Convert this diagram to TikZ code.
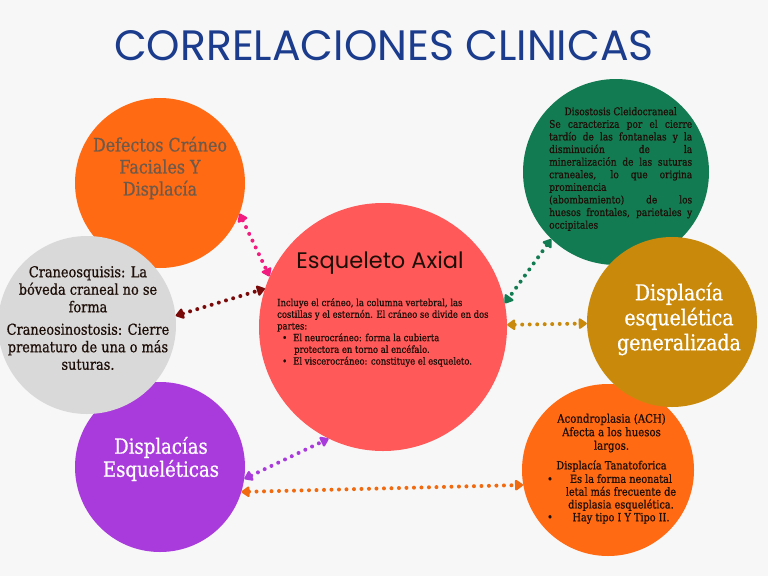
\documentclass[tikz,border=0pt]{standalone}
\usepackage{fontspec}
\setmainfont{DejaVu Serif}[FakeStretch=0.86,FakeBold=0.7]
\newfontfamily\titlefont{Poppins}
\usetikzlibrary{arrows.meta}
\definecolor{cBg}{HTML}{F7F7F7}
\definecolor{cTitle}{HTML}{1B3C8C}
\definecolor{cOTL}{HTML}{FF6A13}
\definecolor{cOTLtxt}{HTML}{6E5A4B}
\definecolor{cGray}{HTML}{D9D9D9}
\definecolor{cPurple}{HTML}{A93BDC}
\definecolor{cRed}{HTML}{FF5959}
\definecolor{cGreen}{HTML}{137B52}
\definecolor{cGold}{HTML}{C98A0B}
\definecolor{cOBR}{HTML}{FF6A13}
\definecolor{cInk}{HTML}{1E0E08}
\definecolor{cPink}{HTML}{F21B7F}
\definecolor{cDarkRed}{HTML}{7A0A0A}
\definecolor{cOArrow}{HTML}{F26A10}
\newcommand\fs[2]{\fontsize{#1}{#2}\selectfont}
\tikzset{
  blob/.style={circle, inner sep=0pt, minimum size=#1},
  link/.style={line width=4pt, dash pattern=on 0pt off 7.5pt, line cap=round,
    {Triangle[length=9pt,width=12pt,round]}-{Triangle[length=9pt,width=12pt,round]}},
  txt/.style={inner sep=0pt, align=center},
}
\begin{document}
\begin{tikzpicture}[x=1pt,y=-1pt]
\fill[cBg] (0,0) rectangle (768,576);
\useasboundingbox (0,0) rectangle (768,576);
% circles
\node[blob=170pt, fill=cOTL] (otl) at (160,183) {};
\node[blob=186pt, fill=cGreen] (grn) at (616,172) {};
\node[blob=172pt, fill=cOBR] (obr) at (608,470) {};
\node[blob=170pt, fill=cGold] (gld) at (672,322) {};
\node[blob=170pt, fill=cPurple] (pur) at (160,467) {};
\node[blob=178pt, fill=cGray] (gry) at (87,325) {};
\node[blob=248pt, fill=cRed] (axl) at (383,327) {};
% connectors
\draw[link, color=cPink] (otl.-21) -- (axl.156);
\draw[link, color=cDarkRed] (gry.6) -- (axl.162);
\draw[link, color=cGreen] (grn.-134) -- (axl.11);
\draw[link, color=cGold] (axl.1) -- (gld.181);
\draw[link, color=cPurple] (pur.-8) -- (axl.-116);
\draw[link, color=cOArrow] (pur.-17) -- (obr.190);
% title
\node[txt, text=cTitle, font=\titlefont\fs{42.5}{42}] (title) at (384,46) {CORRELACIONES CLINICAS};
% texts
\node[txt, text=cOTLtxt, font=\fs{18.5}{22}] (otltxt) at (160,168) {Defectos Cráneo\\Faciales Y\\Displacía};
\node[txt, text=cInk, font=\fs{15}{17.5}] (grytxt) at (88,318) {Craneosquisis: La\\bóveda craneal no se\\forma\\[5pt]Craneosinostosis: Cierre\\prematuro de una o más\\suturas.};
\node[txt, text=white, font=\fs{21}{23}] (purtxt) at (161,459) {Displacías\\Esqueléticas};
\node[txt, text=white, font=\fs{22}{25}] (gldtxt) at (679,319) {Displacía\\esquelética\\generalizada};
\node[txt, text=cInk, font=\titlefont\fs{22.5}{24}] (axltitle) at (380,263) {Esqueleto Axial};
\node[anchor=north west, inner sep=0pt, align=left, text=cInk, font=\fs{9.8}{11.7}] (axltxt) at (277,298)
 {Incluye el cráneo, la columna vertebral, las\\
  costillas y el esternón. El cráneo se divide en dos\\
  partes:\\
  \hspace*{5pt}\textbullet\hspace{6pt}El neurocráneo: forma la cubierta\\
  \hspace*{17pt}protectora en torno al encéfalo.\\
  \hspace*{5pt}\textbullet\hspace{6pt}El viscerocráneo: constituye el esqueleto.};
\node[anchor=north west, inner sep=0pt, align=left, text=cInk, font=\fs{10.5}{12.6}] (grntxt) at (549,107)
 {\makebox[143pt][c]{Disostosis Cleidocraneal}\\
  \makebox[143pt][s]{Se caracteriza por el cierre}\\
  \makebox[143pt][s]{tardío de las fontanelas y la}\\
  \makebox[143pt][s]{disminución de la}\\
  \makebox[143pt][s]{mineralización de las suturas}\\
  \makebox[143pt][s]{craneales, lo que origina}\\
  \makebox[143pt][l]{prominencia}\\
  \makebox[143pt][s]{(abombamiento) de los}\\
  \makebox[143pt][s]{huesos frontales, parietales y}\\
  \makebox[143pt][l]{occipitales}};
\node[txt, text=cInk, font=\fs{11.8}{13.5}] (obrtxt1) at (611.5,433) {Acondroplasia (ACH)\\Afecta a los huesos\\largos.};
\node[txt, text=cInk, font=\fs{11.3}{12.8}] (obrtxt2) at (611.5,466) {Displacía Tanatoforica};
\node[txt, text=cInk, font=\fs{11.3}{12.8}] (obrtxt3) at (621,499) {Es la forma neonatal\\letal más frecuente de\\displasia esquelética.\\Hay tipo I Y Tipo II.};
\node[txt, text=cInk, font=\fs{11}{12.8}] (bul1) at (550,480) {\textbullet};
\node[txt, text=cInk, font=\fs{11}{12.8}] (bul2) at (550,518) {\textbullet};
\end{tikzpicture}
\end{document}
